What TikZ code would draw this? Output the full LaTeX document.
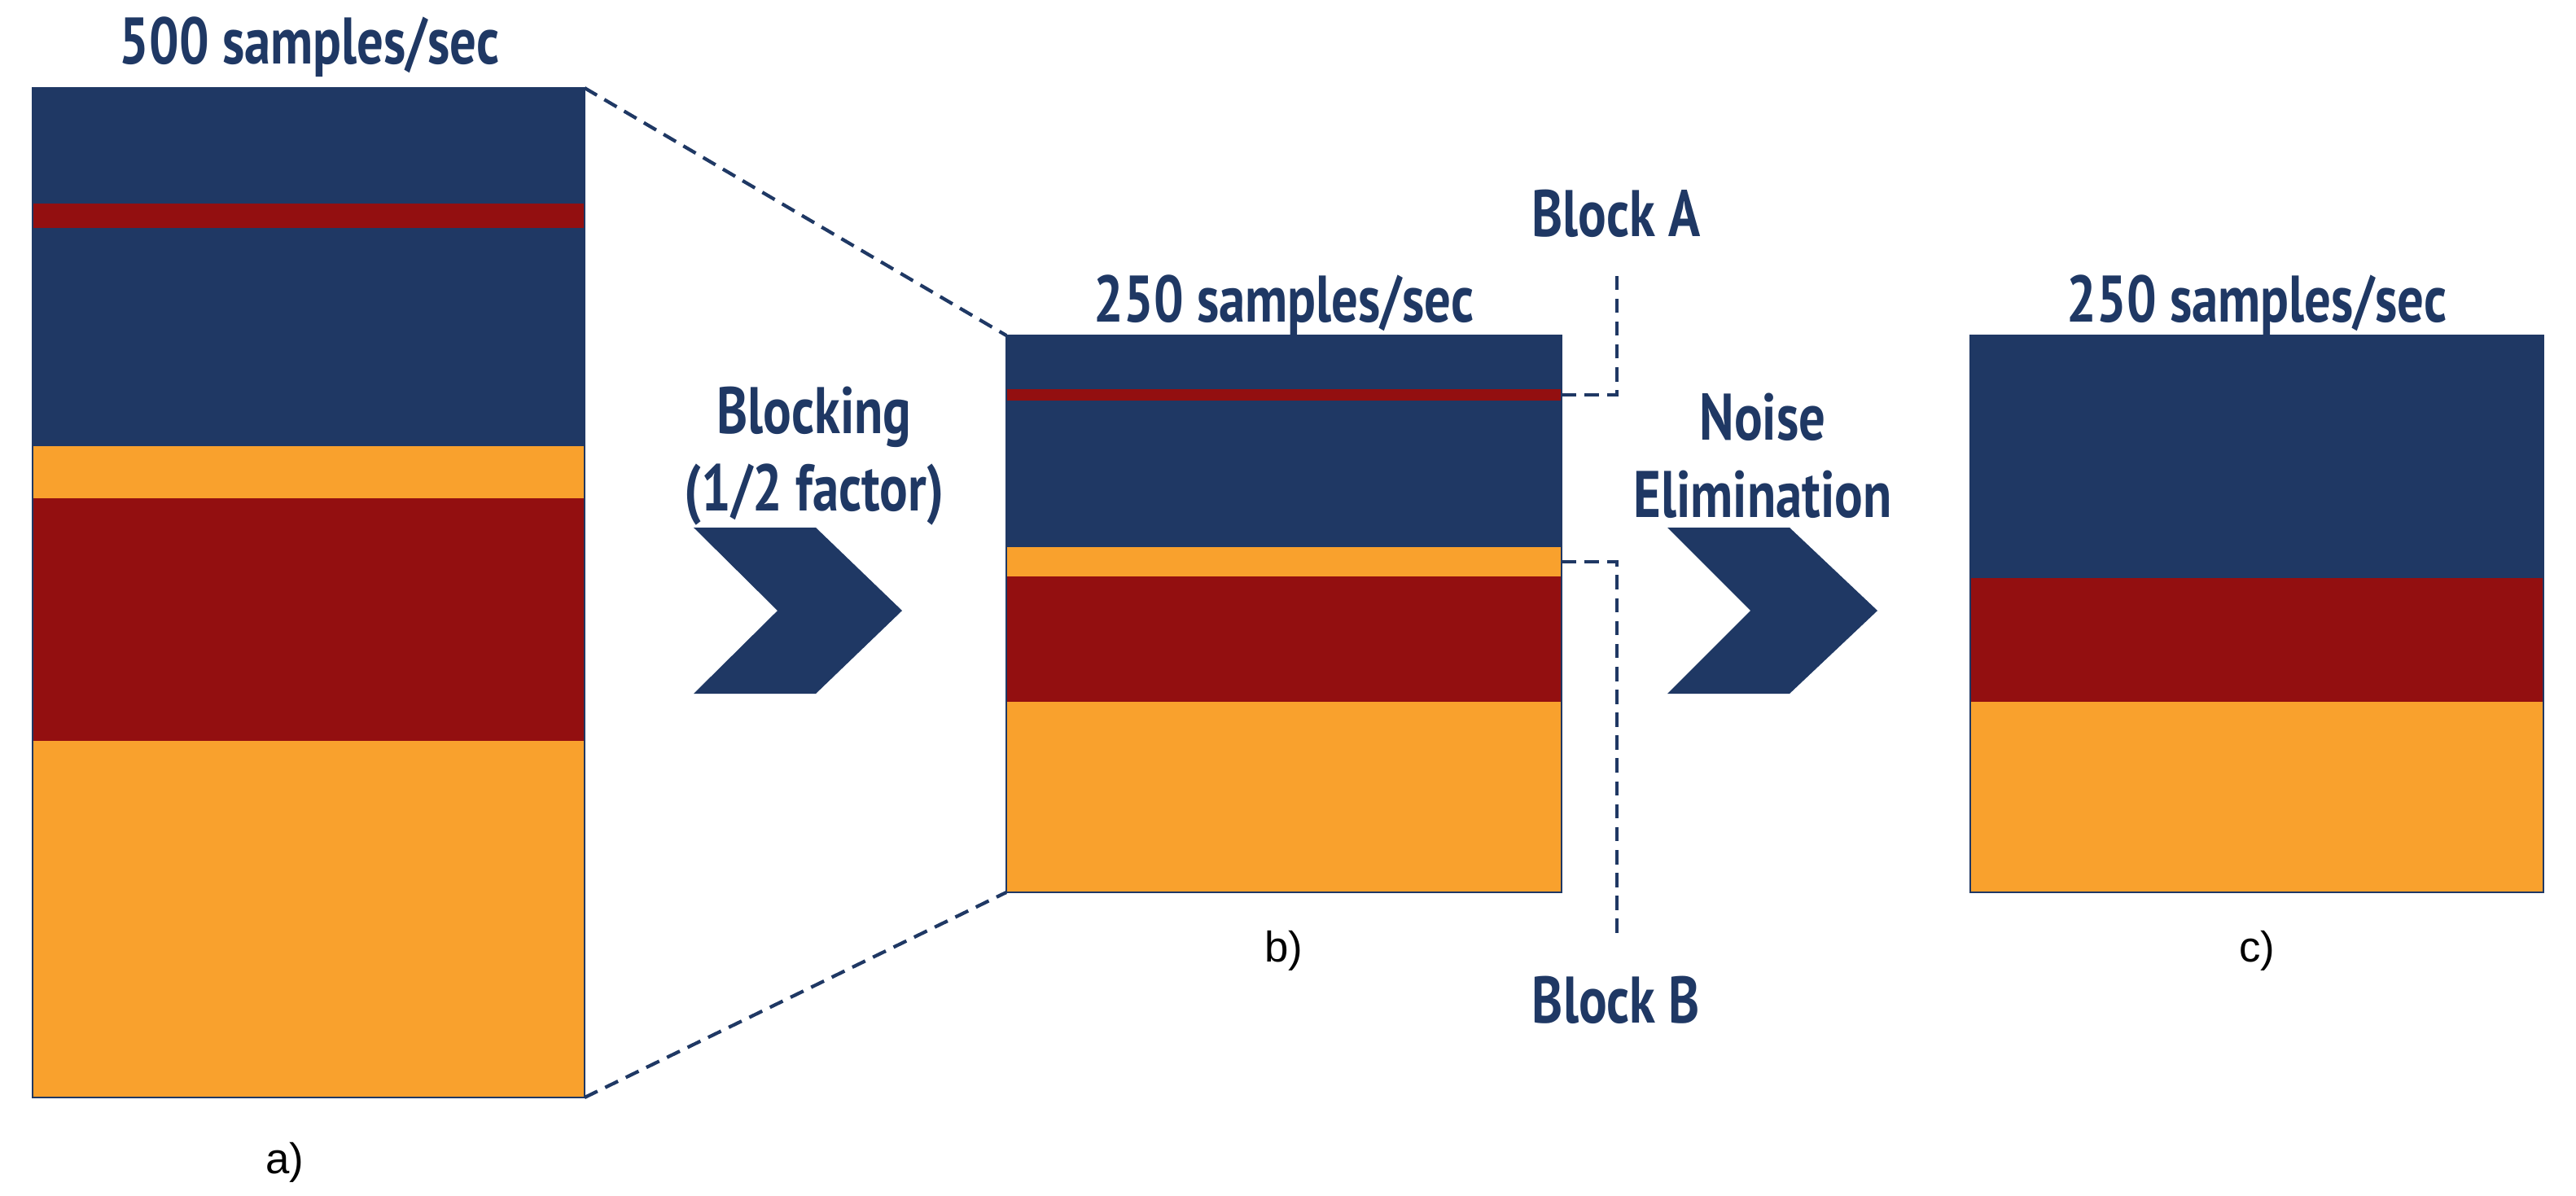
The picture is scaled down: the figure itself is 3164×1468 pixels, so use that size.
\documentclass[tikz,border=0pt]{standalone}
\usepackage{fontspec}
\setmainfont{Liberation Sans}
\newfontfamily\headfont[FakeStretch=0.8]{PT Sans}
\usetikzlibrary{positioning}
\definecolor{navy}{RGB}{31,56,100}
\definecolor{darkred}{RGB}{147,15,16}
\definecolor{amber}{RGB}{249,161,45}
\begin{document}
\begin{tikzpicture}[x=0.01cm,y=-0.01cm,
  stripe/.style={draw=navy,line width=0.6pt},
  head/.style={text=navy,font=\headfont\bfseries\fontsize{23}{27}\selectfont,align=center},
  tag/.style={font=\fontsize{15}{18}\selectfont},
  link/.style={navy,dash pattern=on 5pt off 3pt,line width=1.2pt},
  chevron/.style={fill=navy}]
  \useasboundingbox (0,0) rectangle (3164,1468);
  % column a
  \foreach \ya/\yb/\c in {108/250/navy,250/280/darkred,280/548/navy,548/612/amber,612/910/darkred,910/1348/amber}
    \fill[\c] (40,\ya) rectangle (718,\yb);
  \draw[stripe] (40,108) rectangle (718,1348);
  \coordinate (aTop) at (718,108);
  \coordinate (aBot) at (718,1348);
  % column b
  \foreach \ya/\yb/\c in {412/478/navy,478/492/darkred,492/672/navy,672/708/amber,708/862/darkred,862/1096/amber}
    \fill[\c] (1236,\ya) rectangle (1918,\yb);
  \draw[stripe] (1236,412) rectangle (1918,1096);
  \coordinate (bTop) at (1236,412);
  \coordinate (bBot) at (1236,1096);
  \coordinate (bA) at (1918,485);
  \coordinate (bB) at (1918,690);
  % column c
  \foreach \ya/\yb/\c in {412/710/navy,710/862/darkred,862/1096/amber}
    \fill[\c] (2420,\ya) rectangle (3124,\yb);
  \draw[stripe] (2420,412) rectangle (3124,1096);

  % labels
  \node[head] (rateA) at (380,58) {500 samples/sec};
  \node[head] (rateB) at (1577,375) {250 samples/sec};
  \node[head] (rateC) at (2772,375) {250 samples/sec};
  \node[head] (blocking) at (1000,560) {Blocking\\(1/2 factor)};
  \node[head] (noise) at (2165,560) {Noise\\Elimination};
  \node[head] (blockA) at (1985,262) {Block A};
  \node[head] (blockB) at (1985,1228) {Block B};
  \node[tag] (capA) at (350,1428) {a)};
  \node[tag] (capB) at (1577,1168) {b)};
  \node[tag] (capC) at (2772,1168) {c)};

  % chevrons
  \fill[chevron] (852,648) -- (1002,648) -- (1108,750) -- (1002,852) -- (852,852) -- (955,750) -- cycle;
  \fill[chevron] (2048,648) -- (2198,648) -- (2306,750) -- (2198,852) -- (2048,852) -- (2150,750) -- cycle;

  % connectors
  \draw[link] (aTop) -- (bTop);
  \draw[link] (aBot) -- (bBot);
  \draw[link] (bA) -- ++(68,0) -- ([yshift=-0.35cm]blockA.south -| 1986,0);
  \draw[link] (bB) -- ++(68,0) -- ([yshift=0.35cm]blockB.north -| 1986,0);
\end{tikzpicture}
\end{document}
